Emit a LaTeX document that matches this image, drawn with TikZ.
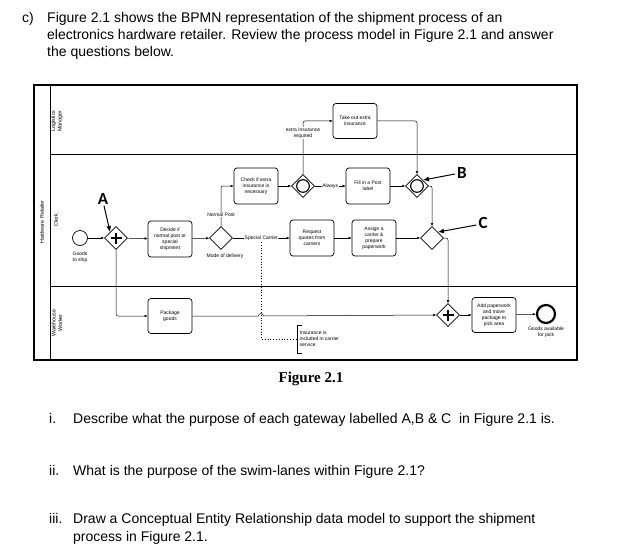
\documentclass[tikz,border=0pt]{standalone}
\usepackage{fontspec}
\setmainfont{Liberation Sans}
\newfontfamily\capfont{Liberation Serif}
\newfontfamily\lblfont{Carlito}
\usetikzlibrary{shapes.geometric,arrows.meta}
\begin{document}
\begin{tikzpicture}[x=1pt,y=-1pt,
  task/.style={draw,rounded corners=3pt,line width=0.7pt,minimum width=44pt,minimum height=36pt,align=center,font=\fontsize{5}{6}\selectfont,inner sep=1pt},
  gw/.style={draw,diamond,minimum width=23pt,minimum height=23pt,inner sep=0pt,line width=0.7pt},
  flow/.style={-{Latex[length=3pt,width=2.6pt]},line width=0.5pt,rounded corners=2pt},
  lbl/.style={font=\fontsize{5}{6}\selectfont,align=center,inner sep=0.6pt},
  lanelbl/.style={font=\fontsize{5.4}{6.4}\selectfont,align=center,inner sep=0.5pt,rotate=90},
  plusmark/.style={line width=1.7pt},
  ringmark/.style={line width=1.1pt},
  callout/.style={-{Latex[length=6pt,width=5pt]},line width=1pt},
  bigletter/.style={font=\lblfont\bfseries\fontsize{17}{17}\selectfont,inner sep=0pt},
  body/.style={font=\fontsize{14}{17}\selectfont,inner sep=0pt,anchor=base west},
  assoc/.style={dotted,line width=0.8pt}
]
\fill[white] (0,0) rectangle (631,556);
\useasboundingbox (0,0) rectangle (631,556);

% header text
\node[body] (cq) at (22,23) {c)};
\node[body] (t1) at (47,23) {Figure 2.1 shows the BPMN representation of the shipment process of an};
\node[body] (t2) at (47,40) {electronics hardware retailer. Review the process model in Figure 2.1 and answer};
\node[body] (t3) at (47,57) {the questions below.};

% pool and lanes
\draw[line width=1.2pt] (34,85) rectangle (577,360);
\draw[line width=0.8pt] (50,85) -- (50,360);
\draw[line width=0.7pt] (50,154) -- (577,154);
\draw[line width=0.7pt] (50,286) -- (577,286);
\node[lanelbl] (pool) at (42,222) {Hardware Retailer};
\node[lanelbl] (lm) at (57,121) {Logistics\\Manager};
\node[lanelbl] (clerk) at (56,220) {Clerk};
\node[lanelbl] (ww) at (57,323) {Warehouse\\Worker};

% clerk lane
\node[draw,circle,minimum size=15pt,inner sep=0pt,line width=0.7pt] (start) at (80,238) {};
\node[lbl] (gts) at (80,257) {Goods\\to ship};
\node[gw] (gA) at (116,238) {};
\draw[plusmark] ([xshift=-5.5pt]gA.center) -- ([xshift=5.5pt]gA.center);
\draw[plusmark] ([yshift=-5.5pt]gA.center) -- ([yshift=5.5pt]gA.center);
\node[task] (decide) at (170,239) {Decide if\\normal post or\\special\\shipment};
\node[gw] (gM) at (221,238) {};
\node[lbl] (mod) at (225,256) {Mode of delivery};
\node[task] (check) at (256,186) {Check if extra\\insurance is\\necessary};
\node[gw] (gE) at (303,186) {};
\draw[ringmark] (gE.center) circle (6.3pt);
\node[task] (fill) at (368,186) {Fill in a Post\\label};
\node[gw] (gB) at (417,186) {};
\draw[ringmark] (gB.center) circle (6.3pt);
\node[task] (request) at (312,238) {Request\\quotes from\\carriers};
\node[task] (assign) at (374,238) {Assign a\\carrier \&\\prepare\\paperwork};
\node[gw] (gC) at (432,238) {};

% logistics lane
\node[task,minimum height=35pt] (takeout) at (355,121) {Take out extra\\insurance};

% warehouse lane
\node[task,minimum height=35pt] (package) at (170,316) {Package\\goods};
\node[gw] (gJ) at (448,315) {};
\draw[plusmark] ([xshift=-5.5pt]gJ.center) -- ([xshift=5.5pt]gJ.center);
\draw[plusmark] ([yshift=-5.5pt]gJ.center) -- ([yshift=5.5pt]gJ.center);
\node[task,minimum height=35pt] (addp) at (494,315) {Add paperwork\\and move\\package to\\pick area};
\node[draw,circle,minimum size=18pt,inner sep=0pt,line width=2.2pt] (endev) at (546,314) {};
\node[lbl] (gap) at (546,332) {Goods available\\for pick};

% annotation
\node[lbl,align=left,anchor=west,minimum height=28pt,inner xsep=2.5pt] (annot) at (297,339) {Insurance is\\included in carrier\\service};
\draw[line width=0.6pt] ([xshift=5pt]annot.north west) -- (annot.north west) -- (annot.south west) -- ([xshift=5pt]annot.south west);

% flows
\draw[flow] (start) -- (gA);
\draw[flow] (gA) -- (decide);
\draw[flow] (decide) -- (gM);
\draw[flow] (gM.north) |- (check.west);
\node[lbl,fill=white] (np) at (221,215) {Normal Post};
\draw[flow] (check) -- (gE);
\draw[flow] (gE) -- node[lbl,fill=white] (alw) {Always} (fill);
\draw[flow] (gE.north) |- (takeout.west);
\node[lbl,fill=white] (eir) at (303,133) {extra insurance\\required};
\draw[flow] (takeout.east) -| (gB.north);
\draw[flow] (fill) -- (gB);
\draw[flow] (gB.east) -| (gC.north);
\draw[flow] (gM) -- node[lbl,fill=white] (sc) {Special Carrier} (request);
\draw[flow] (request) -- (assign);
\draw[flow] (assign) -- (gC);
\draw[flow] (gC.east) -| (gJ.north);
\draw[flow] (gA.south) |- (package.west);
\coordinate (hopL) at (258.5,316);
\draw[line width=0.5pt] (package.east) -- (hopL) arc (180:360:2.5);
\coordinate (hopR) at (263.5,316);
\draw[flow] (hopR) -- (gJ.west);
\draw[flow] (gJ) -- (addp);
\draw[flow] (addp) -- (endev);

% association
\coordinate (d1) at (261,242);
\draw[assoc] (d1) |- (annot.west);

% callouts
\node[bigletter] (lA) at (103,199) {A};
\draw[callout] (lA.south) ++(1,1) -- (gA.north west);
\node[bigletter] (lB) at (462,173) {B};
\draw[callout] (lB.west) ++(-2,1) -- (gB.north east);
\node[bigletter] (lC) at (483,223) {C};
\draw[callout] (lC.west) ++(-2,2) -- (gC.north east);

% caption
\node[font=\capfont\bfseries\fontsize{15}{18}\selectfont,anchor=base,inner sep=0pt] (cap) at (311,382) {Figure 2.1};

% questions
\node[body] (q1n) at (49,423) {i.};
\node[body] (q1) at (73,423) {Describe what the purpose of each gateway labelled A,B \& C\ \ in Figure 2.1 is.};
\node[body] (q2n) at (49,475) {ii.};
\node[body] (q2) at (73,475) {What is the purpose of the swim-lanes within Figure 2.1?};
\node[body] (q3n) at (49,523) {iii.};
\node[body] (q3) at (73,523) {Draw a Conceptual Entity Relationship data model to support the shipment};
\node[body] (q3b) at (73,541) {process in Figure 2.1.};
\end{tikzpicture}
\end{document}
